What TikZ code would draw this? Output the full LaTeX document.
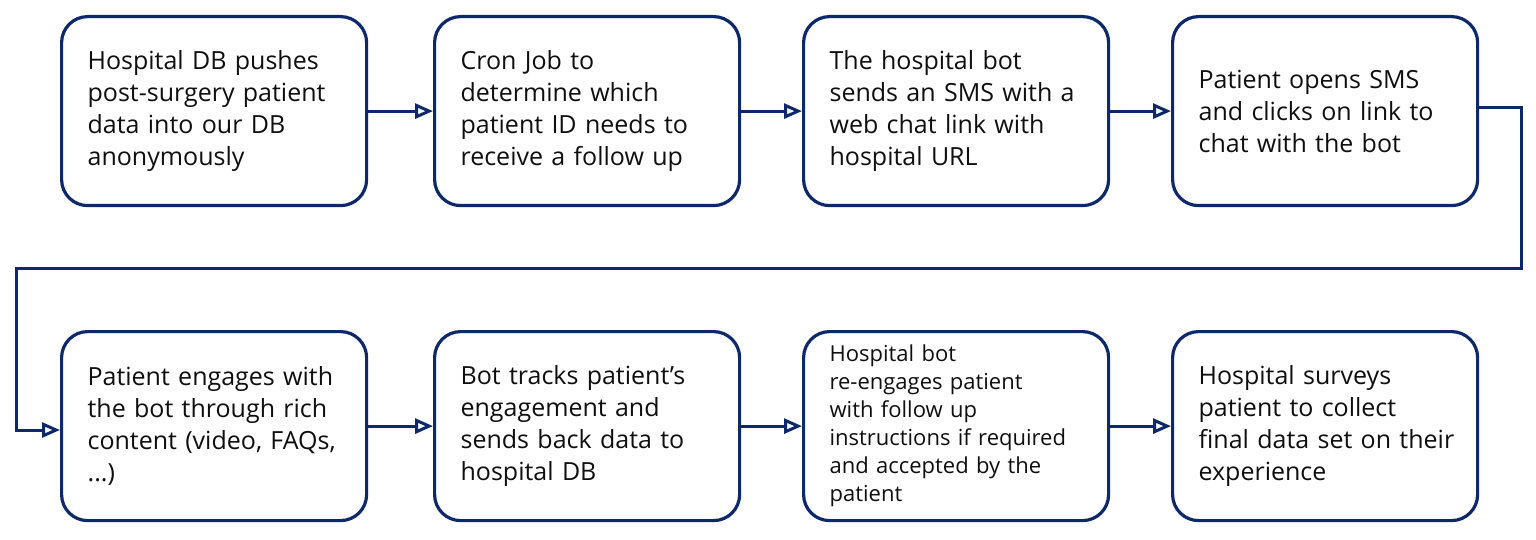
\documentclass[tikz,border=0pt]{standalone}
\usepackage{fontspec}
\setmainfont{Open Sans}
\usetikzlibrary{arrows.meta,positioning,calc}
\definecolor{navy}{RGB}{14,40,108}
\definecolor{txt}{RGB}{15,15,15}
\tikzset{
  stepbox/.style={draw=navy, line width=3.2pt, rounded corners=26pt, fill=white,
    minimum width=305pt, minimum height=189pt, text width=253pt, inner xsep=26pt,
    align=left, anchor=north west, text=txt,
    font=\fontsize{25pt}{32pt}\selectfont},
  smallbox/.style={stepbox, font=\fontsize{22pt}{28pt}\selectfont},
  flow/.style={draw=navy, line width=3pt, -{Triangle[open, length=18pt, width=15pt, line width=3pt, fill=white]}}
}
\begin{document}
\begin{tikzpicture}[x=1pt,y=1pt]
\useasboundingbox (0,0) rectangle (1536,-540);
\node[stepbox] (b1) at (60,-15) {Hospital DB pushes\\post-surgery patient\\data into our DB\\anonymously};
\node[stepbox] (b2) at (433,-15) {Cron Job to\\determine which\\patient ID needs to\\receive a follow up};
\node[stepbox] (b3) at (802,-15) {The hospital bot\\sends an SMS with a\\web chat link with\\hospital URL};
\node[stepbox] (b4) at (1171,-15) {Patient opens SMS\\and clicks on link to\\chat with the bot};
\node[stepbox] (b5) at (60,-330) {Patient engages with\\the bot through rich\\content (video, FAQs,\\...)};
\node[stepbox] (b6) at (433,-330) {Bot tracks patient’s\\engagement and\\sends back data to\\hospital DB};
\node[smallbox] (b7) at (802,-330) {Hospital bot\\re-engages patient\\with follow up\\instructions if required\\and accepted by the\\patient};
\node[stepbox] (b8) at (1171,-330) {Hospital surveys\\patient to collect\\\mbox{final data set on their}\\experience};
\draw[flow] (b1.east) -- (b2.west);
\draw[flow] (b2.east) -- (b3.west);
\draw[flow] (b3.east) -- (b4.west);
\draw[flow] (b5.east) -- (b6.west);
\draw[flow] (b6.east) -- (b7.west);
\draw[flow] (b7.east) -- (b8.west);
\coordinate (r1) at (1521,-108);
\coordinate (r2) at (1521,-268);
\coordinate (l1) at (16,-268);
\coordinate (l2) at (16,-430);
\draw[flow] (b4.east |- r1) -- (r1) -- (r2) -- (l1) -- (l2) -- (b5.west |- l2);
\end{tikzpicture}
\end{document}
